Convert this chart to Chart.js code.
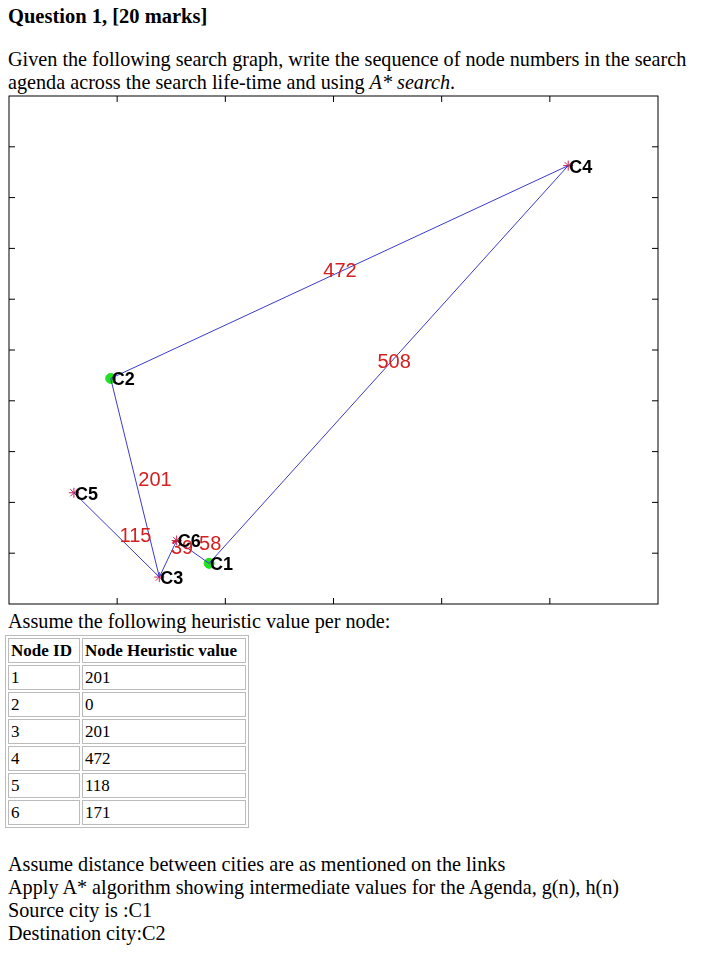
<!DOCTYPE html>
<html><head><meta charset="utf-8">
<script src="https://cdn.jsdelivr.net/npm/chart.js@4"></script>
<style>
body{margin:0;background:#fff;font-family:"Liberation Serif","Times New Roman",serif;color:#000;width:727px;height:956px;position:relative;overflow:hidden}
.t{position:absolute;left:8px;font-size:20.2px;white-space:nowrap}
#wrap{position:absolute;left:0;top:90px;width:668px;height:520px}
table{position:absolute;left:5px;top:635px;border-collapse:separate;border-spacing:2px;border:1px solid #bbb;font-size:17px}
td{border:1px solid #bbb;padding:1px 2px;height:21px}
</style></head><body>
<div class="t" style="top:5px;font-weight:bold;font-size:20.5px">Question 1, [20 marks]</div>
<div class="t" style="top:48px">Given the following search graph, write the sequence of node numbers in the search</div>
<div class="t" style="top:71px">agenda across the search life-time and using <i>A* search</i>.</div>
<div id="wrap"><canvas id="c"></canvas></div>
<div class="t" style="top:610px">Assume the following heuristic value per node:</div>
<table id="tbl"></table>
<div class="t" style="top:853px">Assume distance between cities are as mentioned on the links</div>
<div class="t" style="top:876px">Apply A* algorithm showing intermediate values for the Agenda, g(n), h(n)</div>
<div class="t" style="top:899px">Source city is :C1</div>
<div class="t" style="top:922px">Destination city:C2</div>
<script>
const nodeNames = ["C1", "C2", "C3", "C4", "C5", "C6"];
const nodeX = [1.85, 0.94, 1.39, 5.17, 0.60, 1.55];
const nodeY = [0.80, 4.44, 0.53, 8.63, 2.19, 1.25];
const nodeGreen = [true, true, false, false, false, false];
const edgeFrom = [1, 0, 1, 4, 2, 5];
const edgeTo = [3, 3, 2, 2, 5, 0];
const edgeCost = ["472", "508", "201", "115", "39", "58"];
const edgeLabelX = [3.06, 3.56, 1.35, 1.17, 1.60, 1.86];
const edgeLabelY = [6.55, 4.75, 2.43, 1.33, 1.10, 1.18];
const heurIds = [1, 2, 3, 4, 5, 6];
const heurVals = [201, 0, 201, 472, 118, 171];

document.getElementById("tbl").innerHTML =
  '<tr><td style="font-weight:bold;width:66px">Node ID</td><td style="font-weight:bold;width:158px">Node Heuristic value</td></tr>' +
  heurIds.map((id, i) => `<tr><td>${id}</td><td>${heurVals[i]}</td></tr>`).join("");

const datasets = edgeFrom.map((f, i) => ({
  data: [{ x: nodeX[f], y: nodeY[f] }, { x: nodeX[edgeTo[i]], y: nodeY[edgeTo[i]] }],
  showLine: true, borderColor: "#3a3acc", borderWidth: 1, pointRadius: 0,
}));
datasets.push({
  data: nodeX.map((x, i) => ({ x, y: nodeY[i] })),
  pointStyle: nodeX.map((x, i) => (nodeGreen[i] ? "circle" : "star")),
  pointRadius: 5,
  pointBackgroundColor: nodeX.map((x, i) => (nodeGreen[i] ? "#22e022" : "#cc2255")),
  pointBorderColor: nodeX.map((x, i) => (nodeGreen[i] ? "#22e022" : "#cc2255")),
  borderWidth: 1,
});

const deco = {
  id: "deco",
  afterDatasetsDraw(chart) {
    const { ctx, chartArea: a, scales: { x, y } } = chart;
    ctx.save();
    ctx.font = "20px 'Liberation Sans'";
    ctx.fillStyle = "#d42020";
    ctx.textAlign = "center"; ctx.textBaseline = "middle";
    edgeCost.forEach((c, i) => ctx.fillText(c, x.getPixelForValue(edgeLabelX[i]), y.getPixelForValue(edgeLabelY[i])));
    ctx.font = "bold 18px 'Liberation Sans'";
    ctx.fillStyle = "#000"; ctx.textAlign = "left";
    nodeNames.forEach((n, i) => ctx.fillText(n, x.getPixelForValue(nodeX[i]) + 1, y.getPixelForValue(nodeY[i]) + 2));
    ctx.strokeStyle = "#000"; ctx.lineWidth = 1;
    ctx.strokeRect(a.left, a.top, a.right - a.left, a.bottom - a.top);
    ctx.beginPath();
    for (let v = 1; v <= 5; v++) {
      const px = x.getPixelForValue(v);
      ctx.moveTo(px, a.top); ctx.lineTo(px, a.top + 6);
      ctx.moveTo(px, a.bottom); ctx.lineTo(px, a.bottom - 6);
    }
    for (let v = 1; v <= 9; v++) {
      const py = y.getPixelForValue(v);
      ctx.moveTo(a.left, py); ctx.lineTo(a.left + 6, py);
      ctx.moveTo(a.right, py); ctx.lineTo(a.right - 6, py);
    }
    ctx.stroke();
    ctx.restore();
  },
};

new Chart(document.getElementById("c"), {
  type: "scatter",
  data: { datasets },
  options: {
    responsive: true, maintainAspectRatio: false, animation: false,
    layout: { padding: { left: 9, right: 10, top: 6, bottom: 3 } },
    plugins: { legend: { display: false }, tooltip: { enabled: false } },
    scales: {
      x: { type: "linear", min: 0, max: 6, display: false },
      y: { type: "linear", min: 0, max: 10, display: false },
    },
  },
  plugins: [deco],
});
</script>
</body></html>
